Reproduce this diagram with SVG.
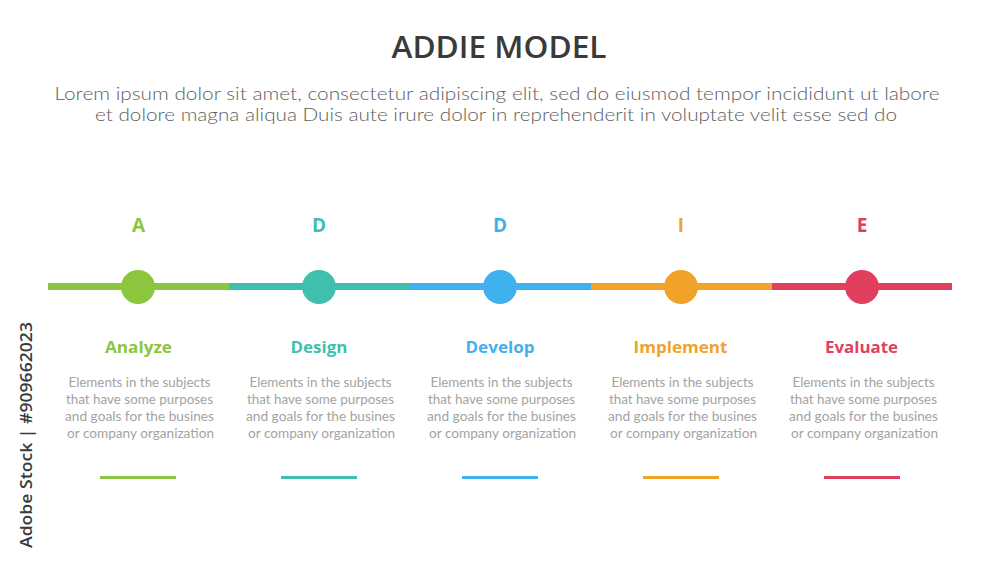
<svg xmlns="http://www.w3.org/2000/svg" width="1000" height="563" viewBox="0 0 1000 563">
  <style>
    .title { font-family: "Open Sans", "Noto Sans", sans-serif; font-weight: 600; font-size: 30px; fill: #3a3a3a; text-anchor: middle; }
    .sub { font-family: Lato, "Open Sans", sans-serif; font-weight: 300; font-size: 17.5px; fill: #5e5e5e; text-anchor: middle; }
    .letter { font-family: "Open Sans", "Noto Sans", sans-serif; font-weight: 700; font-size: 19px; text-anchor: middle; }
    .head { font-family: "Open Sans", "Noto Sans", sans-serif; font-weight: 700; font-size: 16px; text-anchor: middle; }
    .body { font-family: Lato, "Open Sans", sans-serif; font-weight: 400; font-size: 14px; fill: #a3a3a3; text-anchor: middle; }
    .credit { font-family: "Open Sans", "Noto Sans", sans-serif; font-weight: 600; font-size: 17px; fill: #3a3a3a; }
    .g { fill: #8cc63f; } .t { fill: #3fbfad; } .b { fill: #3fb1ef; } .o { fill: #f0a229; } .r { fill: #e0405e; }
  </style>
  <rect width="1000" height="563" fill="#ffffff"/>

  <g id="header">
    <text class="title" x="499" y="58" textLength="215" lengthAdjust="spacingAndGlyphs">ADDIE MODEL</text>
    <text class="sub" x="497" y="99.5" textLength="885" lengthAdjust="spacingAndGlyphs">Lorem ipsum dolor sit amet, consectetur adipiscing elit, sed do eiusmod tempor incididunt ut labore</text>
    <text class="sub" x="496" y="120.5" textLength="802" lengthAdjust="spacingAndGlyphs">et dolore magna aliqua Duis aute irure dolor in reprehenderit in voluptate velit esse sed do</text>
  </g>

  <g id="connectors">
    <rect class="g" x="48" y="283" width="181" height="7"/>
    <rect class="t" x="229" y="283" width="181" height="7"/>
    <rect class="b" x="410" y="283" width="181" height="7"/>
    <rect class="o" x="591" y="283" width="181" height="7"/>
    <rect class="r" x="772" y="283" width="180" height="7"/>
  </g>

  <g id="node-analyze">
    <text class="letter g" x="138.5" y="231.5">A</text>
    <circle class="g" cx="138" cy="287" r="17"/>
    <text class="head g" x="138.5" y="352.5" textLength="67" lengthAdjust="spacingAndGlyphs">Analyze</text>
    <text class="body" x="139.5" y="387" textLength="142" lengthAdjust="spacingAndGlyphs">Elements in the subjects</text>
    <text class="body" x="139.5" y="404" textLength="147" lengthAdjust="spacingAndGlyphs">that have some purposes</text>
    <text class="body" x="139.5" y="421" textLength="149" lengthAdjust="spacingAndGlyphs">and goals for the  busines</text>
    <text class="body" x="140.5" y="438" textLength="147" lengthAdjust="spacingAndGlyphs">or company organization</text>
    <rect class="g" x="100" y="476" width="76" height="3"/>
  </g>

  <g id="node-design">
    <text class="letter t" x="319" y="231.5">D</text>
    <circle class="t" cx="319" cy="287" r="17"/>
    <text class="head t" x="319" y="352.5" textLength="57" lengthAdjust="spacingAndGlyphs">Design</text>
    <text class="body" x="320.5" y="387" textLength="142" lengthAdjust="spacingAndGlyphs">Elements in the subjects</text>
    <text class="body" x="320.5" y="404" textLength="147" lengthAdjust="spacingAndGlyphs">that have some purposes</text>
    <text class="body" x="320.5" y="421" textLength="149" lengthAdjust="spacingAndGlyphs">and goals for the  busines</text>
    <text class="body" x="321.5" y="438" textLength="147" lengthAdjust="spacingAndGlyphs">or company organization</text>
    <rect class="t" x="281" y="476" width="76" height="3"/>
  </g>

  <g id="node-develop">
    <text class="letter b" x="500" y="231.5">D</text>
    <circle class="b" cx="500" cy="287" r="17"/>
    <text class="head b" x="500" y="352.5" textLength="69" lengthAdjust="spacingAndGlyphs">Develop</text>
    <text class="body" x="501.5" y="387" textLength="142" lengthAdjust="spacingAndGlyphs">Elements in the subjects</text>
    <text class="body" x="501.5" y="404" textLength="147" lengthAdjust="spacingAndGlyphs">that have some purposes</text>
    <text class="body" x="501.5" y="421" textLength="149" lengthAdjust="spacingAndGlyphs">and goals for the  busines</text>
    <text class="body" x="502.5" y="438" textLength="147" lengthAdjust="spacingAndGlyphs">or company organization</text>
    <rect class="b" x="462" y="476" width="76" height="3"/>
  </g>

  <g id="node-implement">
    <text class="letter o" x="681" y="231.5">I</text>
    <circle class="o" cx="681" cy="287" r="17"/>
    <text class="head o" x="680.5" y="352.5" textLength="94" lengthAdjust="spacingAndGlyphs">Implement</text>
    <text class="body" x="682.5" y="387" textLength="142" lengthAdjust="spacingAndGlyphs">Elements in the subjects</text>
    <text class="body" x="682.5" y="404" textLength="147" lengthAdjust="spacingAndGlyphs">that have some purposes</text>
    <text class="body" x="682.5" y="421" textLength="149" lengthAdjust="spacingAndGlyphs">and goals for the  busines</text>
    <text class="body" x="683.5" y="438" textLength="147" lengthAdjust="spacingAndGlyphs">or company organization</text>
    <rect class="o" x="643" y="476" width="76" height="3"/>
  </g>

  <g id="node-evaluate">
    <text class="letter r" x="862" y="231.5">E</text>
    <circle class="r" cx="862" cy="287" r="17"/>
    <text class="head r" x="861.5" y="352.5" textLength="73" lengthAdjust="spacingAndGlyphs">Evaluate</text>
    <text class="body" x="863.5" y="387" textLength="142" lengthAdjust="spacingAndGlyphs">Elements in the subjects</text>
    <text class="body" x="863.5" y="404" textLength="147" lengthAdjust="spacingAndGlyphs">that have some purposes</text>
    <text class="body" x="863.5" y="421" textLength="149" lengthAdjust="spacingAndGlyphs">and goals for the  busines</text>
    <text class="body" x="864.5" y="438" textLength="147" lengthAdjust="spacingAndGlyphs">or company organization</text>
    <rect class="r" x="824" y="476" width="76" height="3"/>
  </g>

  <g id="credit">
    <text class="credit" transform="translate(31.5 548) rotate(-90)" x="0" y="0" textLength="226" lengthAdjust="spacingAndGlyphs">Adobe Stock | #909662023</text>
  </g>
</svg>
